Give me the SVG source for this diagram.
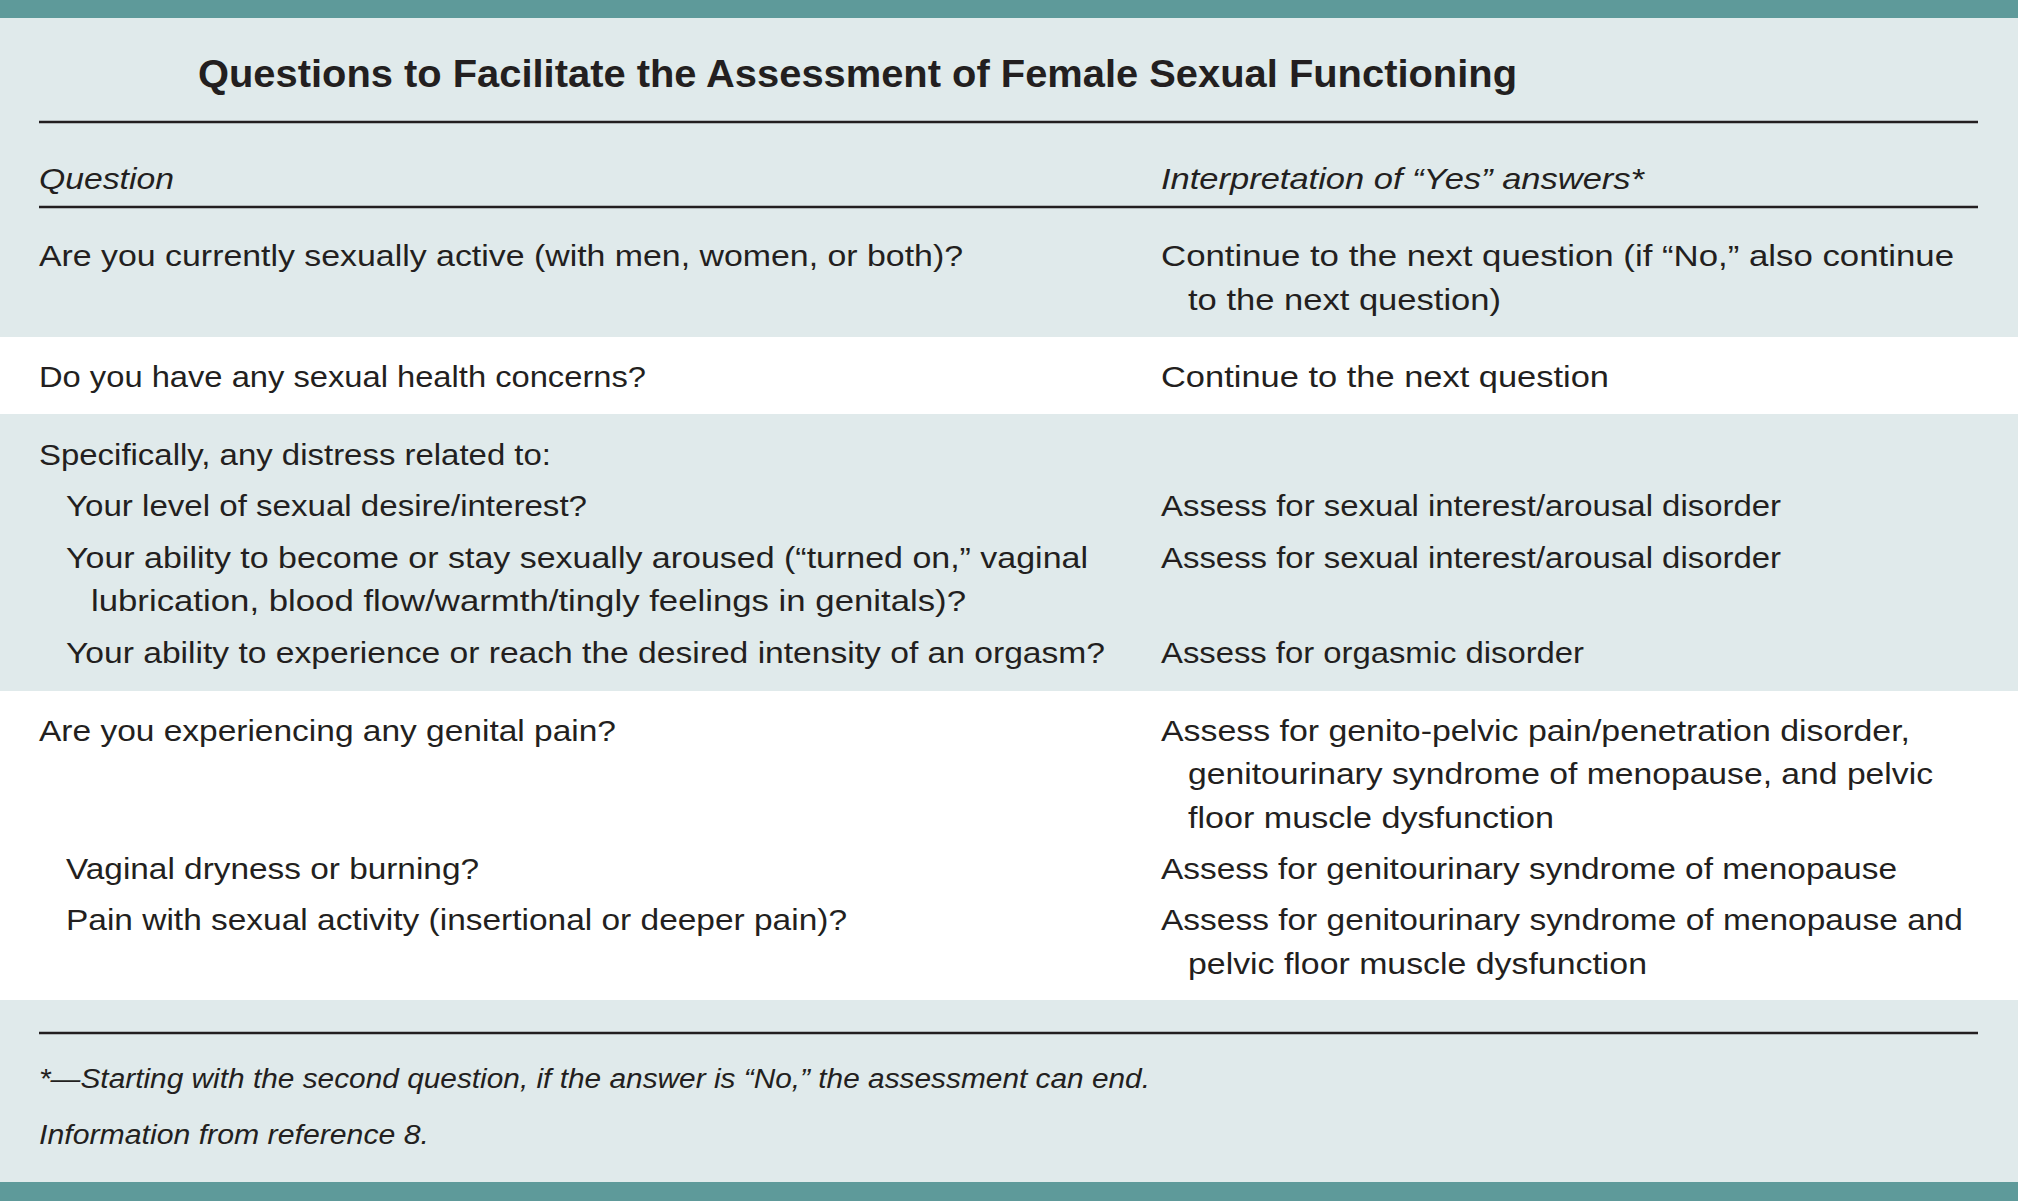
<svg xmlns="http://www.w3.org/2000/svg" width="2018" height="1201" viewBox="0 0 2018 1201">
<style>
text{font-family:"Liberation Sans",Arial,sans-serif;fill:#231f20;font-size:30px}
.t{font-weight:bold;font-size:38px}
.i{font-style:italic}
.f{font-style:italic;font-size:27px}
.ln{stroke:#231f20;stroke-width:2.5}
</style>
<rect x="0" y="0" width="2018" height="1201" fill="#e0eaeb"/>
<rect x="0" y="337" width="2018" height="77" fill="#ffffff"/>
<rect x="0" y="691" width="2018" height="309" fill="#ffffff"/>
<rect x="0" y="0" width="2018" height="18" fill="#5e9a9a"/>
<rect x="0" y="1182" width="2018" height="19" fill="#5e9a9a"/>
<g id="title"><text class="t" x="198" y="87" textLength="1319" lengthAdjust="spacingAndGlyphs">Questions to Facilitate the Assessment of Female Sexual Functioning</text></g>
<g id="rules">
<line class="ln" x1="39" y1="122" x2="1978" y2="122"/>
<line class="ln" x1="39" y1="207" x2="1978" y2="207"/>
<line class="ln" x1="39" y1="1033" x2="1978" y2="1033"/>
</g>
<g id="header">
<text class="i" x="39" y="189" textLength="135" lengthAdjust="spacingAndGlyphs">Question</text>
<text class="i" x="1161" y="189" textLength="483" lengthAdjust="spacingAndGlyphs">Interpretation of “Yes” answers*</text>
</g>
<g id="row1">
<text x="39" y="266" textLength="924" lengthAdjust="spacingAndGlyphs">Are you currently sexually active (with men, women, or both)?</text>
<text x="1161" y="266" textLength="793" lengthAdjust="spacingAndGlyphs">Continue to the next question (if “No,” also continue</text>
<text x="1188" y="310" textLength="313" lengthAdjust="spacingAndGlyphs">to the next question)</text>
</g>
<g id="row2">
<text x="39" y="387" textLength="607" lengthAdjust="spacingAndGlyphs">Do you have any sexual health concerns?</text>
<text x="1161" y="387" textLength="448" lengthAdjust="spacingAndGlyphs">Continue to the next question</text>
</g>
<g id="row3">
<text x="39" y="465" textLength="512" lengthAdjust="spacingAndGlyphs">Specifically, any distress related to:</text>
<text x="66" y="516" textLength="521" lengthAdjust="spacingAndGlyphs">Your level of sexual desire/interest?</text>
<text x="66" y="568" textLength="1022" lengthAdjust="spacingAndGlyphs">Your ability to become or stay sexually aroused (“turned on,” vaginal</text>
<text x="91" y="611" textLength="875" lengthAdjust="spacingAndGlyphs">lubrication, blood flow/warmth/tingly feelings in genitals)?</text>
<text x="66" y="663" textLength="1039" lengthAdjust="spacingAndGlyphs">Your ability to experience or reach the desired intensity of an orgasm?</text>
<text x="1161" y="516" textLength="620" lengthAdjust="spacingAndGlyphs">Assess for sexual interest/arousal disorder</text>
<text x="1161" y="568" textLength="620" lengthAdjust="spacingAndGlyphs">Assess for sexual interest/arousal disorder</text>
<text x="1161" y="663" textLength="423" lengthAdjust="spacingAndGlyphs">Assess for orgasmic disorder</text>
</g>
<g id="row4">
<text x="39" y="741" textLength="577" lengthAdjust="spacingAndGlyphs">Are you experiencing any genital pain?</text>
<text x="66" y="879" textLength="413" lengthAdjust="spacingAndGlyphs">Vaginal dryness or burning?</text>
<text x="66" y="930" textLength="781" lengthAdjust="spacingAndGlyphs">Pain with sexual activity (insertional or deeper pain)?</text>
<text x="1161" y="741" textLength="749" lengthAdjust="spacingAndGlyphs">Assess for genito-pelvic pain/penetration disorder,</text>
<text x="1188" y="784" textLength="745" lengthAdjust="spacingAndGlyphs">genitourinary syndrome of menopause, and pelvic</text>
<text x="1188" y="828" textLength="366" lengthAdjust="spacingAndGlyphs">floor muscle dysfunction</text>
<text x="1161" y="879" textLength="736" lengthAdjust="spacingAndGlyphs">Assess for genitourinary syndrome of menopause</text>
<text x="1161" y="930" textLength="802" lengthAdjust="spacingAndGlyphs">Assess for genitourinary syndrome of menopause and</text>
<text x="1188" y="974" textLength="459" lengthAdjust="spacingAndGlyphs">pelvic floor muscle dysfunction</text>
</g>
<g id="footer">
<text class="f" x="39" y="1088" textLength="1111" lengthAdjust="spacingAndGlyphs">*—Starting with the second question, if the answer is “No,” the assessment can end.</text>
<text class="f" x="39" y="1144" textLength="390" lengthAdjust="spacingAndGlyphs">Information from reference 8.</text>
</g>
</svg>
